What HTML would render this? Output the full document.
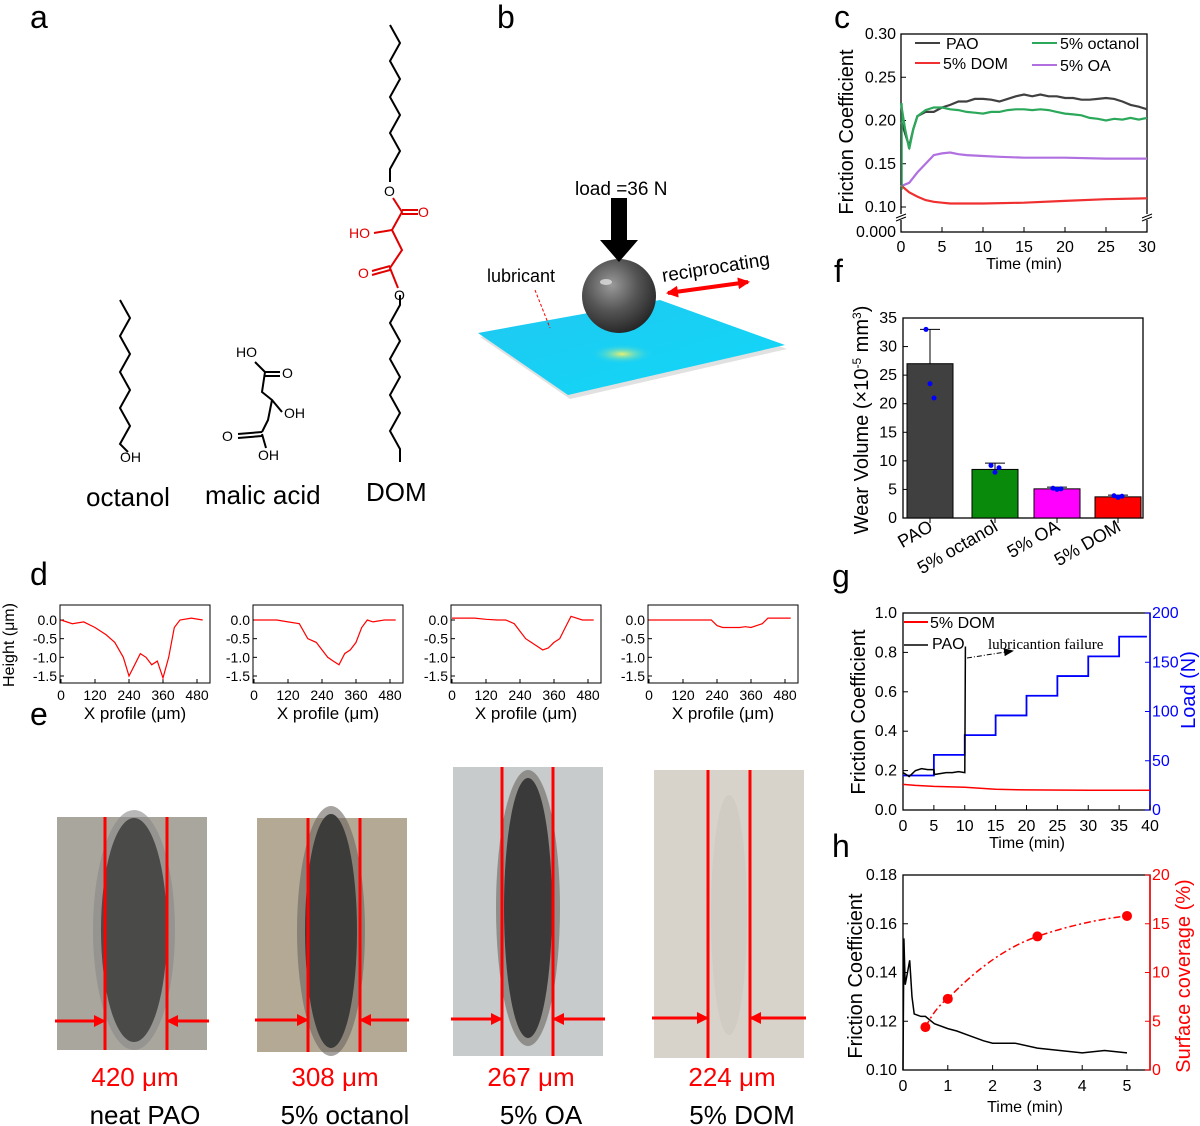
<!DOCTYPE html>
<html><head><meta charset="utf-8"><style>
html,body{margin:0;padding:0;background:#fff}
svg{display:block;font-family:"Liberation Sans",Arial,sans-serif}
</style></head><body>
<svg id="fig" width="1200" height="1126" viewBox="0 0 1200 1126" xmlns="http://www.w3.org/2000/svg">
<defs>
<radialGradient id="sph" cx="0.4" cy="0.35" r="0.7"><stop offset="0" stop-color="#9a9a9a"/><stop offset="0.5" stop-color="#555"/><stop offset="1" stop-color="#222"/></radialGradient>
<radialGradient id="glow" cx="0.5" cy="0.5" r="0.5"><stop offset="0" stop-color="#e8f070"/><stop offset="1" stop-color="#1ad0f5" stop-opacity="0"/></radialGradient>
<linearGradient id="plate" x1="0" y1="0" x2="1" y2="1"><stop offset="0" stop-color="#20c8f0"/><stop offset="1" stop-color="#10d8f8"/></linearGradient>
<marker id="ah" markerUnits="userSpaceOnUse" markerWidth="10" markerHeight="8" refX="8" refY="4" orient="auto"><path d="M0,0 L10,4 L0,8z" fill="#000"/></marker>
<marker id="rah" markerUnits="userSpaceOnUse" markerWidth="12" markerHeight="12" refX="10" refY="6" orient="auto"><path d="M0,0 L12,6 L0,12z" fill="#f00"/></marker>
<marker id="rahs" markerUnits="userSpaceOnUse" markerWidth="12" markerHeight="12" refX="2" refY="6" orient="auto"><path d="M12,0 L0,6 L12,12z" fill="#f00"/></marker>
</defs>

<g font-size="32">
<text x="30" y="28">a</text>
<text x="497" y="28">b</text>
<text x="834" y="28">c</text>
<text x="834" y="282">f</text>
<text x="30" y="585">d</text>
<text x="30" y="725">e</text>
<text x="832" y="587">g</text>
<text x="832" y="857">h</text>
</g>

<g fill="none" stroke="#000" stroke-width="2">
<polyline points="120,300 130,318 120,336 130,354 120,372 130,390 120,408 130,426 120,444 128,452"/>
<polyline points="255,362 265,372 262,392 272,400 268,420 262,432"/>
<line x1="265" y1="372" x2="280" y2="372"/><line x1="265" y1="376" x2="280" y2="376"/>
<line x1="272" y1="400" x2="282" y2="412"/>
<line x1="262" y1="432" x2="238" y2="434"/><line x1="262" y1="436" x2="238" y2="438"/>
<line x1="262" y1="434" x2="266" y2="448"/>
<polyline points="390,25 400,43 390,61 400,79 390,97 400,115 390,133 400,151 390,169 390,182"/>
<polyline points="400,295 400,305 390,323 400,341 390,359 400,377 390,395 400,413 390,431 400,449 400,462"/>
<g stroke="#e00000">
<polyline points="393,198 402,212 392,230 402,250 390,268 398,288"/>
<line x1="402" y1="210" x2="418" y2="210"/><line x1="402" y1="214" x2="418" y2="214"/>
<line x1="392" y1="230" x2="374" y2="233"/>
<line x1="390" y1="266" x2="372" y2="271"/><line x1="390" y1="270" x2="372" y2="275"/>
</g>
</g>
<g font-size="14">
<text x="120" y="462">OH</text>
<text x="236" y="357">HO</text><text x="282" y="378">O</text>
<text x="284" y="418">OH</text>
<text x="222" y="441">O</text><text x="258" y="460">OH</text>
<text x="384" y="196">O</text><text x="394" y="300">O</text>
<text x="418" y="217" fill="#e00000">O</text>
<text x="349" y="238" fill="#e00000">HO</text>
<text x="358" y="278" fill="#e00000">O</text>
</g>
<g font-size="26">
<text x="86" y="506">octanol</text>
<text x="205" y="504">malic acid</text>
<text x="366" y="501">DOM</text>
</g>

<g>
<polygon points="478,333 660,300 785,345 568,395" fill="#aaa" opacity="0.35" transform="translate(2,4)"/>
<polygon points="478,333 660,300 785,345 568,395" fill="url(#plate)"/>
<ellipse cx="622" cy="354" rx="32" ry="10" fill="url(#glow)"/>
<circle cx="619" cy="296" r="37" fill="url(#sph)"/>
<ellipse cx="606" cy="282" rx="6" ry="3" fill="#ddd" opacity="0.8"/>
<polygon points="611,198 627,198 627,240 638,240 619,262 600,240 611,240" fill="#000"/>
<text x="575" y="195" font-size="19">load =36 N</text>
<line x1="668" y1="293" x2="748" y2="282" stroke="#f00" stroke-width="4" marker-start="url(#rahs)" marker-end="url(#rah)"/>
<text x="663" y="282" font-size="19" transform="rotate(-9 663 282)">reciprocating</text>
<text x="487" y="282" font-size="18">lubricant</text>
<line x1="535" y1="290" x2="550" y2="328" stroke="#f00" stroke-dasharray="3,2"/>
</g>

<g id="charts"></g>
</svg>
<script>
const cTime=[0,0.5,1,1.5,2,3,4,5,6,7,8,9,10,11,12,13,14,15,16,17,18,19,20,21,22,23,24,25,26,27,28,29,30];
const cPAO=[0.20,0.185,0.17,0.19,0.205,0.21,0.21,0.215,0.218,0.222,0.222,0.225,0.225,0.224,0.222,0.225,0.228,0.23,0.228,0.23,0.228,0.228,0.226,0.226,0.224,0.224,0.225,0.226,0.225,0.222,0.218,0.216,0.213];
const cOct=[0.22,0.19,0.167,0.19,0.205,0.212,0.215,0.215,0.213,0.212,0.21,0.209,0.208,0.21,0.21,0.212,0.213,0.213,0.212,0.213,0.212,0.21,0.208,0.207,0.206,0.203,0.202,0.2,0.202,0.201,0.203,0.201,0.203];
const oaTime=[0,1,2,3,4,5,6,7,8,10,12,15,20,25,30];
const cOA=[0.124,0.128,0.14,0.15,0.16,0.162,0.163,0.161,0.16,0.159,0.158,0.157,0.157,0.156,0.156];
const domTime=[0,1,2,3,4,5,6,8,10,15,20,25,30];
const cDOM=[0.125,0.117,0.112,0.108,0.106,0.105,0.104,0.104,0.104,0.105,0.107,0.109,0.11];

const fCats=["PAO","5% octanol","5% OA","5% DOM"];
const fVals=[27,8.5,5.1,3.7];
const fErr=[33,9.6,5.4,4.0];
const fColors=["#404040","#0a8a0a","#ff00ff","#ff0000"];
const fDots=[[33,23.5,21],[9.2,8.0,8.8],[5.2,5.0,5.1],[3.9,3.6,3.8]];

const gLoadT=[0,5,10,15,20,25,30,35,39.5];
const gLoad=[35,56,76,96,116,136,156,176,176];
const gPaoT=[0,0.5,1,2,3,4,5,5.1,6,7,8,9,10,10.05,10.1];
const gPao=[0.19,0.18,0.17,0.2,0.21,0.205,0.205,0.18,0.185,0.19,0.19,0.195,0.19,0.5,0.83];
const gDomT=[0,2,5,10,15,20,30,40];
const gDom=[0.13,0.125,0.12,0.115,0.105,0.102,0.1,0.1];

const hT=[0,0.02,0.05,0.1,0.15,0.2,0.25,0.4,0.5,0.7,1,1.2,1.5,1.8,2,2.5,3,3.5,4,4.5,5];
const hF=[0.10,0.154,0.135,0.14,0.145,0.13,0.123,0.122,0.122,0.119,0.117,0.116,0.114,0.112,0.111,0.111,0.109,0.108,0.107,0.108,0.107];
const hCovT=[0.5,1,3,5];
const hCov=[4.4,7.3,13.7,15.8];

const dX=[0,40,80,120,160,190,220,240,260,280,300,320,340,360,380,400,420,460,500,540];
const dH1=[0,-0.1,-0.05,-0.2,-0.4,-0.6,-1.0,-1.5,-1.2,-0.9,-1.0,-1.2,-1.1,-1.55,-1.0,-0.2,0,0.05,0,0];
const dH2=[0,0,0,-0.05,-0.1,-0.5,-0.6,-0.8,-1.0,-1.1,-1.2,-0.9,-0.8,-0.6,-0.2,0,-0.05,0,0,0];
const dH3=[0.05,0.05,0.05,0.02,0.0,0,-0.1,-0.3,-0.5,-0.6,-0.7,-0.8,-0.75,-0.6,-0.5,-0.2,0.1,0,0,0];
const dH4=[0,0,0,0,0,0,0,-0.15,-0.2,-0.2,-0.2,-0.2,-0.18,-0.2,-0.15,-0.1,0.05,0.05,0.05,0.05];
const dTicksX=[0,120,240,360,480];
const dTicksY=[0,-0.5,-1.0,-1.5];
const eWidths=["420 μm","308 μm","267 μm","224 μm"];
const eNames=["neat PAO","5% octanol","5% OA","5% DOM"];

const NS="http://www.w3.org/2000/svg";
const root=document.getElementById('charts');
function mk(tag,attrs,parent){const e=document.createElementNS(NS,tag);for(const k in attrs)e.setAttribute(k,attrs[k]);(parent||root).appendChild(e);return e;}
function txt(x,y,s,attrs,parent){const t=mk('text',Object.assign({x:x,y:y},attrs||{}),parent);t.textContent=s;return t;}
function lin(x0,x1,p0,p1){return v=>p0+(v-x0)/(x1-x0)*(p1-p0);}
function path(xs,ys,sx,sy){return xs.map((v,i)=>(i?'L':'M')+sx(v).toFixed(1)+','+sy(ys[i]).toFixed(1)).join('');}
function stepPath(xs,ys,sx,sy){let d='M'+sx(xs[0])+','+sy(ys[0]);for(let i=1;i<xs.length;i++){d+='L'+sx(xs[i])+','+sy(ys[i-1])+'L'+sx(xs[i])+','+sy(ys[i]);}return d;}
const TF=16, AF=20;

(function(){
 const g=mk('g',{});
 
 
 const sx=lin(0,30,901,1147), sy=lin(0.10,0.30,207,34);
 const ticks=[0.10,0.15,0.20,0.25,0.30];
 mk('rect',{x:901,y:34,width:246,height:198,fill:'none',stroke:'#000','stroke-width':1.3},g);
 ticks.forEach(t=>{mk('line',{x1:901,x2:906,y1:sy(t),y2:sy(t),stroke:'#000'},g);txt(896,sy(t)+5,t.toFixed(2),{'font-size':TF,'text-anchor':'end'},g);});
 txt(896,237,'0.000',{'font-size':TF,'text-anchor':'end'},g);
 mk('rect',{x:895,y:214,width:12,height:6,fill:'#fff'},g);mk('rect',{x:1141,y:214,width:12,height:6,fill:'#fff'},g);
 ['896,218 906,214','896,221 906,217','1142,218 1152,214','1142,221 1152,217'].forEach(p=>mk('polyline',{points:p,stroke:'#000',fill:'none'},g));
 [0,5,10,15,20,25,30].forEach(t=>{mk('line',{x1:sx(t),x2:sx(t),y1:232,y2:227,stroke:'#000'},g);txt(sx(t),252,String(t),{'font-size':TF,'text-anchor':'middle'},g);});
 txt(1024,269,'Time (min)',{'font-size':TF,'text-anchor':'middle'},g);
 txt(853,132,'Friction Coefficient',{'font-size':AF,'text-anchor':'middle',transform:'rotate(-90 853 132)'},g);
 const s=[[cTime,cPAO,'#404040','line-pao'],[cTime,cOct,'#2ca85a','line-octanol'],[oaTime,cOA,'#b070e0','line-oa'],[domTime,cDOM,'#f03030','line-dom']];
 s.forEach(a=>{const p=mk('path',{d:path(a[0],a[1],sx,sy),fill:'none',stroke:a[2],'stroke-width':2.2},g);});
 mk('line',{x1:902,x2:902,y1:sy(0.22),y2:sy(0.12),stroke:'#2ca85a','stroke-width':1.5},g);
 const L=[[915,43,'#404040','PAO',946],[1032,43,'#2ca85a','5% octanol',1060],[915,63,'#f03030','5% DOM',943],[1032,65,'#b070e0','5% OA',1060]];
 L.forEach(l=>{mk('line',{x1:l[0],x2:l[0]+25,y1:l[1],y2:l[1],stroke:l[2],'stroke-width':2},g);txt(l[4],l[1]+6,l[3],{'font-size':TF},g);});
})();

(function(){
 const g=mk('g',{});
 
 
 const sy=lin(0,35,518,318);
 const cx=[930,995,1057,1118];
 mk('rect',{x:903,y:318,width:240,height:200,fill:'none',stroke:'#000','stroke-width':1.3},g);
 [0,5,10,15,20,25,30,35].forEach(t=>{mk('line',{x1:903,x2:908,y1:sy(t),y2:sy(t),stroke:'#000'},g);txt(897,sy(t)+5,String(t),{'font-size':TF,'text-anchor':'end'},g);});
 fCats.forEach((c,i)=>{
  const b=mk('rect',{x:cx[i]-23,y:sy(fVals[i]),width:46,height:518-sy(fVals[i]),fill:fColors[i],stroke:'#000'},g);
  
  
  mk('line',{x1:cx[i],x2:cx[i],y1:sy(fVals[i]),y2:sy(fErr[i]),stroke:'#000'},g);
  mk('line',{x1:cx[i]-10,x2:cx[i]+10,y1:sy(fErr[i]),y2:sy(fErr[i]),stroke:'#000'},g);
  fDots[i].forEach((d,j)=>mk('circle',{cx:cx[i]+(j-1)*4,cy:sy(d),r:2.5,fill:'#0000ff'},g));
  mk('line',{x1:cx[i],x2:cx[i],y1:518,y2:523,stroke:'#000'},g);
  txt(cx[i]+4,530,c,{'font-size':18,'text-anchor':'end',transform:'rotate(-30 '+(cx[i]+4)+' 530)'},g);
 });
 const t=txt(868,420,'Wear Volume (×10',{'font-size':AF,'text-anchor':'middle',transform:'rotate(-90 868 420)'},g);
 const ts=mk('tspan',{'font-size':12,dy:-7},t);ts.textContent='-5';
 const t2=mk('tspan',{dy:7},t);t2.textContent=' mm';
 const t3=mk('tspan',{'font-size':12,dy:-7},t);t3.textContent='3';
 const t4=mk('tspan',{dy:7},t);t4.textContent=')';
})();

(function(){
 const g=mk('g',{});
 
 
 const sx=lin(0,40,903,1150), sy=lin(0,1,810,613), sy2=lin(0,200,810,613);
 mk('rect',{x:903,y:613,width:247,height:197,fill:'none',stroke:'#000','stroke-width':1.3},g);
 mk('line',{x1:1150,x2:1150,y1:613,y2:810,stroke:'#0000ff','stroke-width':1.5},g);
 [0,0.2,0.4,0.6,0.8,1.0].forEach(t=>{mk('line',{x1:903,x2:908,y1:sy(t),y2:sy(t),stroke:'#000'},g);txt(897,sy(t)+5,t.toFixed(1),{'font-size':TF,'text-anchor':'end'},g);});
 [0,50,100,150,200].forEach(t=>{mk('line',{x1:1150,x2:1145,y1:sy2(t),y2:sy2(t),stroke:'#0000ff'},g);txt(1152,sy2(t)+5,String(t),{'font-size':TF,fill:'#0000ff'},g);});
 [0,5,10,15,20,25,30,35,40].forEach(t=>{mk('line',{x1:sx(t),x2:sx(t),y1:810,y2:805,stroke:'#000'},g);txt(sx(t),831,String(t),{'font-size':TF,'text-anchor':'middle'},g);});
 txt(1027,848,'Time (min)',{'font-size':TF,'text-anchor':'middle'},g);
 txt(865,712,'Friction Coefficient',{'font-size':AF,'text-anchor':'middle',transform:'rotate(-90 865 712)'},g);
 txt(1195,690,'Load (N)',{'font-size':AF,'text-anchor':'middle',fill:'#0000ff',transform:'rotate(-90 1195 690)'},g);
 const l=mk('path',{d:stepPath(gLoadT,gLoad,sx,sy2),fill:'none',stroke:'#0000ff','stroke-width':1.8},g);
 
 const p=mk('path',{d:path(gPaoT,gPao,sx,sy),fill:'none',stroke:'#000','stroke-width':1.5},g);
 
 const d=mk('path',{d:path(gDomT,gDom,sx,sy),fill:'none',stroke:'#ff0000','stroke-width':1.5},g);
 
 mk('line',{x1:904,x2:928,y1:622,y2:622,stroke:'#ff0000','stroke-width':2},g);txt(930,628,'5% DOM',{'font-size':TF},g);
 mk('line',{x1:904,x2:928,y1:645,y2:645,stroke:'#000','stroke-width':1.5},g);txt(932,649,'PAO',{'font-size':TF},g);
 txt(988,649,'lubricantion failure',{'font-size':15,'font-family':'Liberation Serif,serif'},g);
 mk('line',{x1:967,x2:1012,y1:658,y2:651,stroke:'#000','stroke-dasharray':'5,2,1,2','marker-end':'url(#ah)'},g);
})();

(function(){
 const g=mk('g',{});
 
 
 const sx=lin(0,5,903,1127), sy=lin(0.10,0.18,1070,875), sy2=lin(0,20,1070,875);
 mk('rect',{x:903,y:875,width:247,height:195,fill:'none',stroke:'#000','stroke-width':1.3},g);
 mk('line',{x1:1150,x2:1150,y1:875,y2:1070,stroke:'#ff0000','stroke-width':1.5},g);
 [0.10,0.12,0.14,0.16,0.18].forEach(t=>{mk('line',{x1:903,x2:908,y1:sy(t),y2:sy(t),stroke:'#000'},g);txt(897,sy(t)+5,t.toFixed(2),{'font-size':TF,'text-anchor':'end'},g);});
 [0,5,10,15,20].forEach(t=>{mk('line',{x1:1150,x2:1145,y1:sy2(t),y2:sy2(t),stroke:'#ff0000'},g);txt(1152,sy2(t)+5,String(t),{'font-size':TF,fill:'#ff0000'},g);});
 [0,1,2,3,4,5].forEach(t=>{mk('line',{x1:sx(t),x2:sx(t),y1:1070,y2:1065,stroke:'#000'},g);txt(sx(t),1091,String(t),{'font-size':TF,'text-anchor':'middle'},g);});
 txt(1025,1112,'Time (min)',{'font-size':TF,'text-anchor':'middle'},g);
 txt(862,976,'Friction Coefficient',{'font-size':AF,'text-anchor':'middle',transform:'rotate(-90 862 976)'},g);
 txt(1190,976,'Surface coverage (%)',{'font-size':AF,'text-anchor':'middle',fill:'#ff0000',transform:'rotate(-90 1190 976)'},g);
 const p=mk('path',{d:path(hT,hF,sx,sy),fill:'none',stroke:'#000','stroke-width':1.5},g);
 
 let d='M'+sx(hCovT[0])+','+sy2(hCov[0]);
 for(let i=1;i<hCovT.length;i++){const x0=sx(hCovT[i-1]),y0=sy2(hCov[i-1]),x1=sx(hCovT[i]),y1=sy2(hCov[i]);d+='Q'+((x0+x1)/2)+','+(y1+(y0-y1)*0.25)+' '+x1+','+y1;}
 const c=mk('path',{d:d,fill:'none',stroke:'#ff0000','stroke-width':1.5,'stroke-dasharray':'7,3,2,3'},g);
 
 hCovT.forEach((t,i)=>{const m=mk('circle',{cx:sx(t),cy:sy2(hCov[i]),r:5,fill:'#ff0000'},g);});
})();

(function(){
 const X=[60,253,451,648], series=[dH1,dH2,dH3,dH4];
 X.forEach((x0,k)=>{
  const g=mk('g',{});
  
  
  const sx=lin(0,540,x0+1,x0+154), sy=lin(0,-1.5,620,676);
  mk('rect',{x:x0,y:605,width:150,height:78,fill:'none',stroke:'#000'},g);
  dTicksY.forEach(t=>{mk('line',{x1:x0,x2:x0+4,y1:sy(t),y2:sy(t),stroke:'#000'},g);txt(x0-3,sy(t)+5,t.toFixed(1),{'font-size':14,'text-anchor':'end'},g);});
  dTicksX.forEach(t=>{mk('line',{x1:sx(t),x2:sx(t),y1:683,y2:679,stroke:'#000'},g);txt(sx(t),700,String(t),{'font-size':14,'text-anchor':'middle'},g);});
  txt(x0+75,719,'X profile (μm)',{'font-size':17,'text-anchor':'middle'},g);
  const xs=dX.filter(v=>v<=530);
  const p=mk('path',{d:path(xs,series[k].slice(0,xs.length),sx,sy),fill:'none',stroke:'#ff0000','stroke-width':1.2},g);
  
 });
 txt(14,645,'Height (μm)',{'font-size':16,'text-anchor':'middle',transform:'rotate(-90 14 645)'});
})();

(function(){
 const imgs=[[57,817,150,233,'#a9a69e','#4a4a48',134,930,33,112,105,167,1021],
             [257,818,150,234,'#b3a995','#3c3c3a',331,931,26,117,308,360,1020],
             [453,767,150,289,'#c8cbcb','#3a3a3a',528,908,24,130,502,553,1019],
             [654,770,150,288,'#d8d3ca','#d0ccc4',729,915,18,120,708,750,1018]];
 imgs.forEach((m,i)=>{
  const g=mk('g',{});
  
  
  mk('rect',{x:m[0],y:m[1],width:m[2],height:m[3],fill:m[4]},g);
  if(i<3) mk('ellipse',{cx:m[6],cy:m[7],rx:m[8]+8,ry:m[9]+8,fill:i==0?'#888':'#6a6660',opacity:0.6},g);
  mk('ellipse',{cx:m[6],cy:m[7],rx:m[8],ry:m[9],fill:m[5]},g);
  mk('line',{x1:m[10],x2:m[10],y1:m[1],y2:m[1]+m[3],stroke:'#ff0000','stroke-width':3},g);
  mk('line',{x1:m[11],x2:m[11],y1:m[1],y2:m[1]+m[3],stroke:'#ff0000','stroke-width':3},g);
  mk('line',{x1:m[0]-2,x2:m[10]-1,y1:m[12],y2:m[12],stroke:'#ff0000','stroke-width':3,'marker-end':'url(#rah)'},g);
  mk('line',{x1:m[0]+m[2]+2,x2:m[11]+1,y1:m[12],y2:m[12],stroke:'#ff0000','stroke-width':3,'marker-end':'url(#rah)'},g);
  txt(m[0]+78,1086,eWidths[i],{'font-size':26,fill:'#ff0000','text-anchor':'middle'},g);
  txt(m[0]+88,1124,eNames[i],{'font-size':26,'text-anchor':'middle'},g);
 });
})();
</script>
</body></html>
